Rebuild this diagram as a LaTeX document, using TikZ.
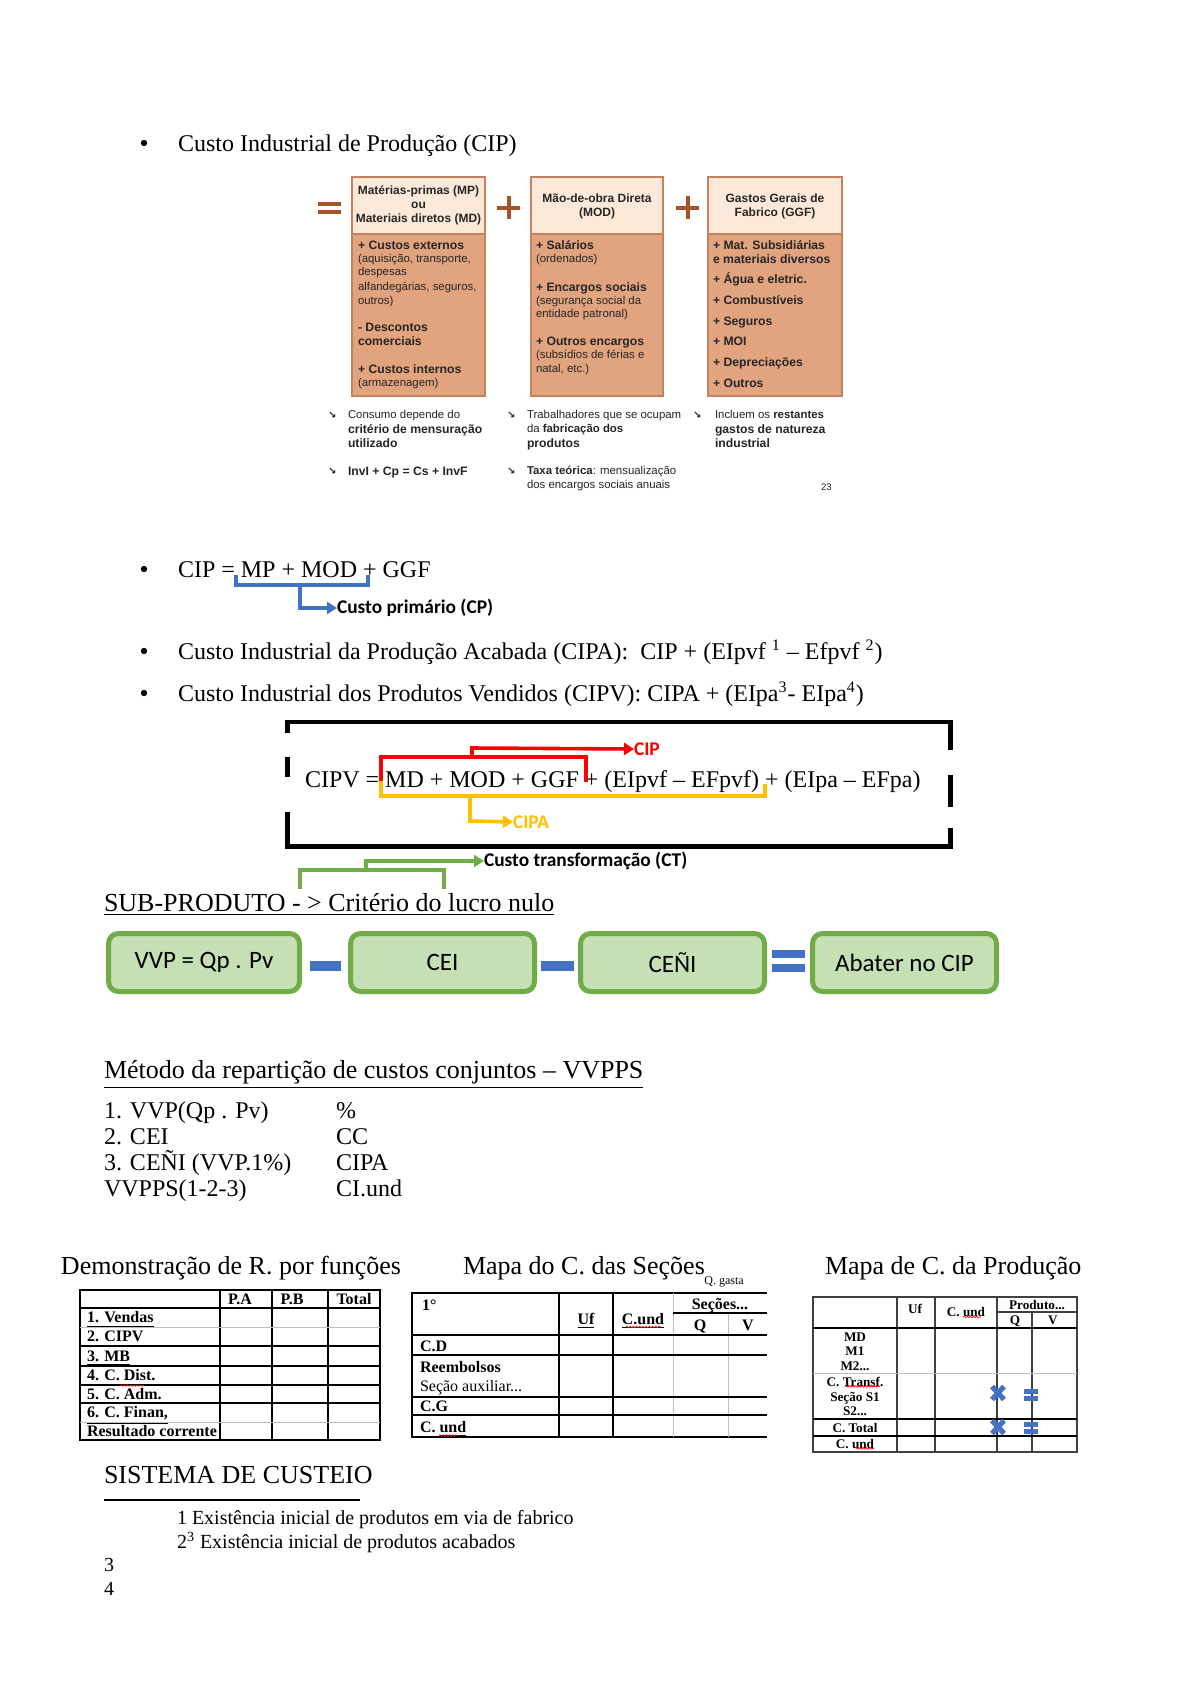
\documentclass[tikz,border=0pt]{standalone}
\usepackage{fontspec}
\setmainfont{Liberation Serif}
\newfontfamily\slidefont{Liberation Sans}
\newfontfamily\arrowfont{DejaVu Sans}
\newfontfamily\calfont{Carlito}
\usetikzlibrary{arrows.meta,decorations.pathmorphing}
\definecolor{hdrfill}{HTML}{FCE9D9}
\definecolor{bodyfill}{HTML}{E2A37F}
\definecolor{boxedge}{HTML}{C4835F}
\definecolor{opbrown}{HTML}{A5532A}
\definecolor{slidetext}{HTML}{262626}
\definecolor{cpblue}{HTML}{4472C4}
\definecolor{cpgreen}{HTML}{70AD47}
\definecolor{lgreen}{HTML}{C5E0B4}
\definecolor{cpyellow}{HTML}{FFC000}
\definecolor{cpred}{HTML}{FF0000}
\definecolor{lightline}{HTML}{BFBFBF}
\begin{document}
\begin{tikzpicture}[x=0.5pt,y=-0.5pt]
\tikzset{
 every node/.style={inner sep=0pt,outer sep=0pt},
 t12/.style={font=\fontsize{12}{14}\selectfont, anchor=base west, yshift=-4pt},
 t13/.style={font=\fontsize{13}{15}\selectfont, anchor=base west, yshift=-4.3pt},
 t10/.style={font=\fontsize{10}{12}\selectfont, anchor=base west, yshift=-3.3pt},
 sl/.style={font=\slidefont\fontsize{5.7}{6.7}\selectfont, text=slidetext, anchor=base west, yshift=-1.9pt},
 slb/.style={font=\slidefont\bfseries\fontsize{6.1}{6.9}\selectfont, text=slidetext, anchor=base west, yshift=-2pt},
 slhead/.style={font=\slidefont\bfseries\fontsize{6.0}{7}\selectfont, text=slidetext, align=center},
 sarrow/.style={font=\arrowfont\bfseries\fontsize{5}{5.5}\selectfont, text=slidetext, anchor=base west, yshift=-1.7pt},
 callab/.style={font=\calfont\bfseries\fontsize{9.7}{11}\selectfont, anchor=west},
 gbox/.style={draw=cpgreen, line width=2.5pt, fill=lgreen, rounded corners=5pt, minimum height=29pt, font=\calfont\fontsize{12.5}{14}\selectfont},
 tb/.style={font=\bfseries\fontsize{8}{9}\selectfont, anchor=base west, yshift=-2.7pt},
 tbc/.style={font=\bfseries\fontsize{8}{9}\selectfont, anchor=base, yshift=-2.7pt},
 tr/.style={font=\fontsize{8}{9}\selectfont, anchor=base west, yshift=-2.7pt},
 tp/.style={font=\bfseries\fontsize{6.6}{7.5}\selectfont, anchor=base, yshift=-2.2pt},
 tline/.style={line width=0.6pt},
 lline/.style={line width=0.5pt, draw=lightline},
 squig/.style={draw=cpred, line width=0.35pt, decorate, decoration={snake, amplitude=0.35pt, segment length=1.6pt}},
 brk/.style={line width=1.8pt},
 tip/.style={-{Triangle[length=5pt,width=6pt]}},
}
\useasboundingbox (0,0) rectangle (1200,1698);
\fill[white] (0,0) rectangle (1200,1698);

% ---------- bullet 1 ----------
\fill (144,143) circle[radius=3.2];
\node[t12] (b1) at (178,143) {Custo Industrial de Produção (CIP)};

% ---------- slide picture ----------
\draw[boxedge, line width=0.6pt, fill=hdrfill] (352,177) rectangle (485,234);
\draw[boxedge, line width=0.6pt, fill=bodyfill] (352,234) rectangle (485,396);
\draw[boxedge, line width=0.6pt, fill=hdrfill] (531,177) rectangle (663,234);
\draw[boxedge, line width=0.6pt, fill=bodyfill] (531,234) rectangle (663,396);
\draw[boxedge, line width=0.6pt, fill=hdrfill] (708,177) rectangle (842,234);
\draw[boxedge, line width=0.6pt, fill=bodyfill] (708,234) rectangle (842,396);

\node[slhead] (h1) at (418.5,205.5) {Matérias-primas (MP)\\ou\\Materiais diretos (MD)};
\node[slhead] (h2) at (597,206) {Mão-de-obra Direta\\(MOD)};
\node[slhead] (h3) at (775,206) {Gastos Gerais de\\Fabrico (GGF)};

% = and +
\fill[opbrown] (318,201.5) rectangle (341,205.5);
\fill[opbrown] (318,210) rectangle (341,214);
\fill[opbrown] (497,205.5) rectangle (520,209.5);
\fill[opbrown] (506.5,196) rectangle (510.5,219);
\fill[opbrown] (676,205.5) rectangle (699,209.5);
\fill[opbrown] (685.5,196) rectangle (689.5,219);

% box 1 body
\node[slb] at (358,245) {+ Custos externos};
\node[sl]  at (358,259) {(aquisição, transporte,};
\node[sl]  at (358,272) {despesas};
\node[sl]  at (358,287) {alfandegárias, seguros,};
\node[sl]  at (358,301) {outros)};
\node[slb] at (358,327) {- Descontos};
\node[slb] at (358,341) {comerciais};
\node[slb] at (358,369) {+ Custos internos};
\node[sl]  at (358,383) {(armazenagem)};
% box 2 body
\node[slb] at (536,245) {+ Salários};
\node[sl]  at (536,259) {(ordenados)};
\node[slb] at (536,287) {+ Encargos sociais};
\node[sl]  at (536,301) {(segurança social da};
\node[sl]  at (536,314) {entidade patronal)};
\node[slb] at (536,341) {+ Outros encargos};
\node[sl]  at (536,355) {(subsídios de férias e};
\node[sl]  at (536,369) {natal, etc.)};
% box 3 body
\node[slb] at (713,245) {+ Mat. Subsidiárias};
\node[slb] at (713,259) {e materiais diversos};
\node[slb] at (713,279) {+ Água e eletric.};
\node[slb] at (713,300) {+ Combustíveis};
\node[slb] at (713,321) {+ Seguros};
\node[slb] at (713,341) {+ MOI};
\node[slb] at (713,362) {+ Depreciações};
\node[slb] at (713,383) {+ Outros};

% notes below slide
\node[sarrow] at (328,415) {↘};
\node[sl]  at (348,415) {Consumo depende do};
\node[slb] at (348,429) {critério de mensuração};
\node[slb] at (348,443) {utilizado};
\node[sarrow] at (328,471) {↘};
\node[slb] at (348,471) {InvI + Cp = Cs + InvF};
\node[sarrow] at (507,415) {↘};
\node[sl]  at (527,415) {Trabalhadores que se ocupam};
\node[sl]  at (527,429) {da \textbf{fabricação dos}};
\node[slb] at (527,443) {produtos};
\node[sarrow] at (507,471) {↘};
\node[sl]  at (527,471) {\textbf{Taxa teórica}: mensualização};
\node[sl]  at (527,485) {dos encargos sociais anuais};
\node[sarrow] at (693,415) {↘};
\node[sl]  at (715,415) {Incluem os \textbf{restantes}};
\node[slb] at (715,429) {gastos de natureza};
\node[slb] at (715,443) {industrial};
\node[sl, font=\slidefont\fontsize{4.8}{5.5}\selectfont] at (821,487) {23};

% ---------- bullet 2 : CIP ----------
\fill (144,569) circle[radius=3.2];
\node[t12] (cipeq) at (178,569) {CIP = MP + MOD + GGF};
\coordinate (cpl) at (236,575);
\coordinate (cpr) at (368,575);
\draw[cpblue, brk] (cpl) -- (236,585) -- (368,585) -- (cpr);
\node[callab] (cp) at (337,608) {Custo primário (CP)};
\draw[cpblue, brk, tip] (300,585) -- (300,608) -- (cp.west);

% ---------- bullets 3 and 4 ----------
\fill (144,651) circle[radius=3.2];
\node[t12] (b3) at (178,651) {Custo Industrial da Produção Acabada (CIPA):\ \ CIP + (EIpvf \textsuperscript{1} – Efpvf \textsuperscript{2})};
\fill (144,693) circle[radius=3.2];
\node[t12] (b4) at (178,693) {Custo Industrial dos Produtos Vendidos (CIPV): CIPA + (EIpa\textsuperscript{3}- EIpa\textsuperscript{4})};

% ---------- CIPV frame ----------
\draw[line width=2.4pt] (287.5,733) -- (287.5,722) -- (950.5,722) -- (950.5,750);
\draw[line width=2.4pt] (287.5,757) -- (287.5,777);
\draw[line width=2.4pt] (950.5,775) -- (950.5,807);
\draw[line width=2.4pt] (287.5,812) -- (287.5,846.5) -- (950.5,846.5) -- (950.5,828);
\node[t12] (cipv) at (305,779) {CIPV = MD + MOD + GGF + (EIpvf – EFpvf) + (EIpa – EFpa)};
% red : CIP
\draw[cpred, brk] (381,781) -- (381,757) -- (586,757) -- (586,782);
\node[callab, text=cpred] (ciplab) at (634,749) {CIP};
\draw[cpred, brk, tip] (472,757) -- (472,748) -- (ciplab.west);
% yellow : CIPA
\draw[cpyellow, brk] (381,781) -- (381,796) -- (765,796) -- (765,784);
\node[callab, text=cpyellow] (cipalab) at (513,822) {CIPA};
\draw[cpyellow, brk, tip] (470,796) -- (470,821) -- (cipalab.west);
% green : CT
\node[callab] (ctlab) at (484,861) {Custo transformação (CT)};
\draw[cpgreen, brk] (300,889) -- (300,870) -- (444,870) -- (444,889);
\draw[cpgreen, brk, tip] (366,870) -- (366,861) -- (ctlab.west);

% ---------- SUB-PRODUTO ----------
\node[t13] (subp) at (104,903) {\underline{SUB-PRODUTO - > Critério do lucro nulo}};
\node[gbox, minimum width=95.5pt] (vvp) at (204,962.5) {VVP = Qp . Pv};
\node[gbox, minimum width=92pt] (cei) at (442.5,962.5) {CEI};
\node[gbox, minimum width=92pt] (ceni) at (672.5,962.5) {CEÑI};
\node[gbox, minimum width=92pt] (abater) at (904.5,962.5) {Abater no CIP};
\fill[cpblue] (310,961) rectangle (341,970.5);
\fill[cpblue] (541,961) rectangle (574,970.5);
\fill[cpblue] (772,949.5) rectangle (805,957.5);
\fill[cpblue] (772,963.5) rectangle (805,971.5);

% ---------- Metodo ----------
\node[t13] (metodo) at (104,1070) {\underline{Método da repartição de custos conjuntos – VVPPS}};
\node[t12] at (104,1110) {1. VVP(Qp . Pv)};
\node[t12] at (336,1110) {\%};
\node[t12] at (104,1136) {2. CEI};
\node[t12] at (336,1136) {CC};
\node[t12] at (104,1162) {3. CEÑI (VVP.1\%)};
\node[t12] at (336,1162) {CIPA};
\node[t12] at (104,1188) {VVPPS(1-2-3)};
\node[t12] at (336,1188) {CI.und};

% ---------- table headings ----------
\node[t13] (dem) at (61,1266) {Demonstração de R. por funções};
\node[t13] (mapa1) at (463,1266) {Mapa do C. das Seções};
\node[font=\fontsize{6}{7}\selectfont, anchor=base] at (724,1284) {Q. gasta};
\node[t13] (mapa2) at (825,1266) {Mapa de C. da Produção};

% ---------- table 1 ----------
\draw[tline] (80,1290) rectangle (380,1440);
\foreach \xx in {220,272,328} \draw[tline] (\xx,1290) -- (\xx,1440);
\foreach \yy in {1308,1346,1366,1385,1403} \draw[tline] (80,\yy) -- (380,\yy);
\draw[lline] (80,1327) -- (380,1327);
\draw[lline] (80,1422) -- (380,1422);
\node[tbc] at (240,1299) {\underline{P.A}};
\node[tbc] at (292,1299) {\underline{P.B}};
\node[tbc] at (354,1299) {\underline{Total}};
\node[tb] at (87,1317.5) {\underline{1. Vendas}};
\node[tb] at (87,1336.5) {\underline{2. CIPV}};
\node[tb] at (87,1356) {\underline{3. MB}};
\node[tb] at (87,1375.5) {\underline{4. C. Dist.}};
\node[tb] at (87,1394) {\underline{5. C. Adm.}};
\node[tb] at (87,1412.5) {\underline{6. C. Finan,}};
\node[tb] at (87,1431) {Resultado corrente};
\draw[squig] (120,1385.5) -- (144,1385.5);

% ---------- table 2 ----------
\draw[tline] (767,1293) -- (412,1293) -- (412,1437) -- (767,1437);
\foreach \xx in {559,613} \draw[tline] (\xx,1293) -- (\xx,1437);
\draw[lline] (673,1293) -- (673,1437);
\draw[lline] (728,1313) -- (728,1437);
\draw[tline] (673,1313) -- (767,1313);
\foreach \yy in {1335,1355,1397,1415} \draw[tline] (412,\yy) -- (767,\yy);
\node[tb] at (422,1305) {1°};
\node[tbc] at (586,1319) {\underline{Uf}};
\node[tbc] at (643,1319) {\underline{C.und}};
\draw[squig] (626,1327) -- (661,1327);
\node[tbc] at (720,1304) {Seções...};
\node[tbc] at (700,1325) {Q};
\node[tbc] at (748,1325) {V};
\node[tb] at (420,1346) {C.D};
\node[tb] at (420,1367) {Reembolsos};
\node[tr] at (420,1386) {Seção auxiliar...};
\node[tb] at (420,1406) {C.G};
\node[tb] at (420,1427) {C. \underline{und}};
\draw[squig] (439,1435.5) -- (458,1435.5);

% ---------- table 3 ----------
\draw[tline, draw=black!75] (813,1297) rectangle (1077,1452);
\foreach \xx in {897,935,997} \draw[tline, draw=black!75] (\xx,1297) -- (\xx,1452);
\draw[tline, draw=black!75] (1032,1312) -- (1032,1452);
\draw[tline, draw=black!75] (997,1312) -- (1077,1312);
\draw[tline] (813,1328) -- (1077,1328);
\draw[lline] (813,1373) -- (1077,1373);
\draw[line width=0.9pt] (813,1419) -- (1077,1419);
\draw[line width=0.9pt] (813,1436) -- (1077,1436);
\node[tp] at (915,1309) {Uf};
\node[tp] at (966,1312) {C. und};
\draw[squig] (963,1317) -- (981,1317);
\node[tp] at (1037,1305) {Produto...};
\node[tp] at (1015,1320) {Q};
\node[tp] at (1053,1320) {V};
\node[tp] at (855,1337) {MD};
\node[tp] at (855,1351) {M1};
\node[tp] at (855,1366) {M2...};
\node[tp] at (855,1382) {C. Transf.};
\draw[squig] (845,1386.5) -- (880,1386.5);
\node[tp] at (855,1397) {Seção S1};
\node[tp] at (855,1411) {S2...};
\node[tp] at (855,1428) {C. Total};
\node[tp] at (855,1444) {C. und};
\draw[squig] (856,1448.5) -- (874,1448.5);
% blue marks
\foreach \yy in {1393,1427} {
  \draw[cpblue, line width=2.6pt] (992,\yy-6.5) -- (1004,\yy+6.5);
  \draw[cpblue, line width=2.6pt] (1004,\yy-6.5) -- (992,\yy+6.5);
}
\foreach \yy in {1395,1428} {
  \fill[cpblue] (1024,\yy-6) rectangle (1038,\yy-1.2);
  \fill[cpblue] (1024,\yy+1.2) rectangle (1038,\yy+6);
}

% ---------- SISTEMA DE CUSTEIO ----------
\node[t13] (sist) at (104,1475) {SISTEMA DE CUSTEIO};
\draw[line width=1.3pt] (104,1500) -- (360,1500);
\node[t10] at (177,1518) {1 Existência inicial de produtos em via de fabrico};
\node[t10] at (177,1542) {2\textsuperscript{3} Existência inicial de produtos acabados};
\node[t10] at (104,1565) {3};
\node[t10] at (104,1589) {4};
\end{tikzpicture}
\end{document}
